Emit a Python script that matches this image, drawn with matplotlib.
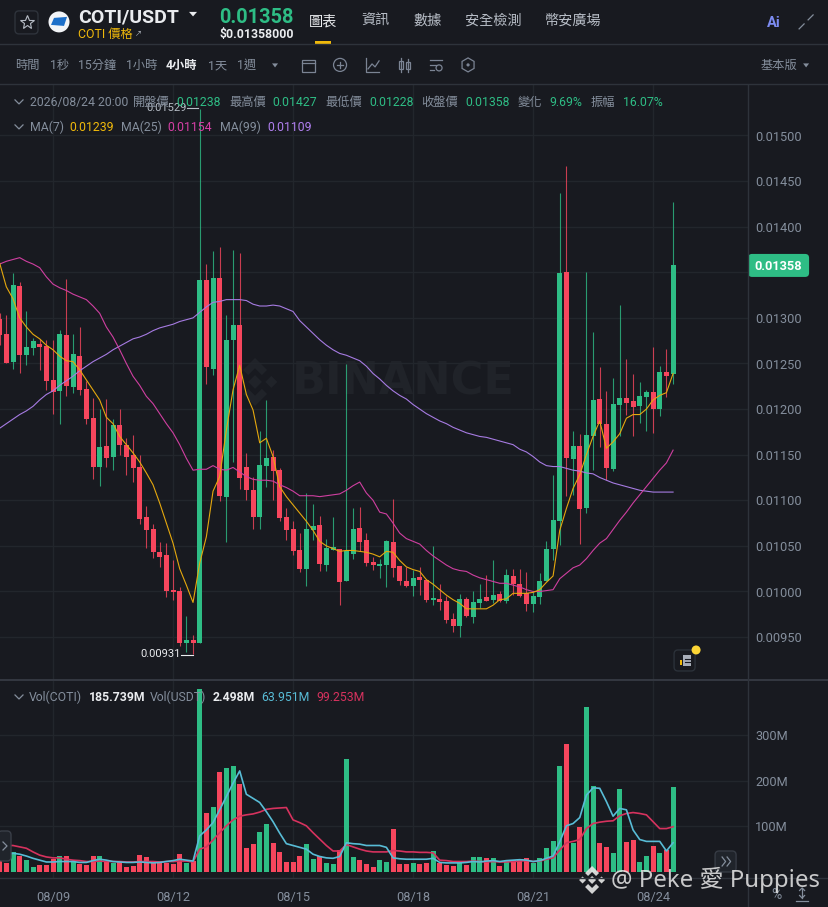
import numpy as np
import matplotlib
matplotlib.use("Agg")
import matplotlib.pyplot as plt
from matplotlib.patches import FancyBboxPatch, Circle, Polygon, Rectangle

plt.rcParams['font.family'] = ['Roboto', 'Noto Sans CJK TC', 'DejaVu Sans']

# prices are in 1e-5 USDT, one entry per 4h candle from 08/07 16:00
opens = [1299, 1282, 1252, 1335, 1259, 1267, 1271, 1269, 1232, 1220, 1281, 1224, 1258, 1222, 1190, 1136, 1159,
         1147, 1182, 1161, 1150, 1136, 1082, 1068, 1043, 1040, 1002, 1000, 943, 947, 944, 1341, 1244, 1344,
         1104, 1276, 1292, 1136, 1111, 1082, 1138, 1147, 1133, 1082, 1068, 1046, 1025, 1067, 1073, 1029, 1045,
         1047, 1011, 1041, 1070, 1056, 1032, 1028, 1029, 1054, 1028, 1011, 1006, 1016, 1013, 991, 992, 990,
         970, 962, 992, 972, 987, 994, 991, 997, 990, 1017, 1008, 998, 986, 994, 1012, 1047, 1077, 1350, 1145,
         1159, 1091, 1170, 1211, 1184, 1134, 1205, 1212, 1209, 1203, 1213, 1219, 1200, 1241, 1238]
closes = [1281, 1251, 1336, 1259, 1268, 1275, 1268, 1231, 1219, 1282, 1225, 1260, 1221, 1189, 1136, 1158, 1146,
          1182, 1161, 1148, 1135, 1079, 1067, 1043, 1038, 1000, 999, 943, 947, 943, 1342, 1246, 1344, 1105,
          1276, 1292, 1124, 1111, 1082, 1139, 1146, 1132, 1081, 1067, 1044, 1025, 1069, 1072, 1030, 1048, 1049,
          1010, 1044, 1069, 1054, 1031, 1029, 1030, 1055, 1026, 1011, 1006, 1015, 1013, 991, 993, 988, 969,
          962, 992, 973, 988, 992, 990, 996, 990, 1018, 1008, 995, 986, 995, 1012, 1047, 1078, 1349, 1146, 1160,
          1090, 1172, 1210, 1184, 1135, 1206, 1212, 1207, 1202, 1214, 1219, 1200, 1241, 1236, 1358]
highs = [1305, 1303, 1349, 1339, 1308, 1278, 1277, 1276, 1276, 1287, 1343, 1282, 1290, 1231, 1212, 1200, 1211,
         1189, 1200, 1168, 1172, 1150, 1094, 1074, 1054, 1053, 1035, 1005, 973, 952, 1529, 1359, 1373, 1378,
         1303, 1374, 1371, 1152, 1125, 1176, 1210, 1155, 1135, 1092, 1077, 1064, 1108, 1096, 1083, 1058, 1082,
         1047, 1249, 1091, 1093, 1064, 1038, 1036, 1056, 1101, 1028, 1027, 1024, 1027, 1014, 1050, 1008, 995,
         976, 997, 994, 1000, 1008, 1018, 1034, 1000, 1025, 1025, 1025, 1021, 1000, 1020, 1055, 1128, 1437,
         1467, 1176, 1173, 1350, 1284, 1246, 1220, 1234, 1314, 1255, 1239, 1230, 1221, 1268, 1247, 1266, 1427]
lows = [1270, 1250, 1244, 1240, 1248, 1259, 1243, 1221, 1195, 1184, 1214, 1218, 1215, 1184, 1123, 1116, 1136,
        1133, 1150, 1128, 1120, 1074, 1048, 1037, 1027, 994, 991, 940, 934, 931, 944, 1228, 1237, 1099, 1054,
        1142, 1112, 1100, 1069, 1069, 1115, 1100, 1077, 1056, 1040, 1021, 1006, 1057, 1023, 1022, 1045, 985,
        1011, 1036, 1044, 1028, 1024, 1015, 1005, 1016, 1007, 1005, 995, 996, 989, 985, 980, 966, 956, 950,
        972, 965, 982, 990, 987, 988, 987, 996, 994, 979, 977, 986, 1012, 1035, 1051, 1105, 1106, 1052, 1086,
        1133, 1158, 1122, 1132, 1170, 1194, 1170, 1185, 1176, 1174, 1192, 1213, 1228]

ma7 = [1360, 1334, 1321, 1300, 1290, 1282, 1277, 1270, 1265, 1258, 1253, 1252, 1243, 1232, 1221, 1210, 1191,
       1184, 1170, 1161, 1152, 1142, 1130, 1117, 1097, 1075, 1053, 1025, 1007, 988, 1031, 1060, 1110, 1126,
       1177, 1221, 1248, 1216, 1199, 1163, 1168, 1148, 1115, 1104, 1095, 1086, 1077, 1067, 1055, 1050, 1047,
       1044, 1045, 1045, 1044, 1043, 1041, 1038, 1044, 1043, 1034, 1027, 1024, 1022, 1013, 1008, 1002, 996,
       991, 987, 981, 981, 981, 981, 985, 991, 992, 998, 998, 998, 999, 1002, 1010, 1017, 1067, 1091, 1113,
       1128, 1150, 1170, 1187, 1157, 1164, 1173, 1190, 1194, 1194, 1200, 1210, 1215, 1218, 1239]
ma25 = [1359, 1362, 1364, 1366, 1362, 1359, 1355, 1345, 1337, 1333, 1330, 1326, 1323, 1320, 1313, 1305, 1290,
        1279, 1265, 1250, 1236, 1226, 1214, 1206, 1195, 1184, 1174, 1161, 1146, 1133, 1134, 1134, 1138, 1134,
        1133, 1136, 1131, 1126, 1123, 1122, 1122, 1121, 1117, 1114, 1110, 1105, 1105, 1105, 1104, 1105, 1106,
        1107, 1111, 1116, 1120, 1108, 1100, 1087, 1085, 1075, 1064, 1058, 1055, 1052, 1045, 1039, 1034, 1029,
        1025, 1023, 1022, 1018, 1015, 1013, 1011, 1009, 1009, 1007, 1005, 1002, 1000, 1000, 1001, 1002, 1014,
        1020, 1026, 1029, 1036, 1045, 1053, 1058, 1068, 1078, 1087, 1097, 1106, 1115, 1124, 1133, 1141, 1155]
ma99 = [1179, 1184, 1189, 1194, 1198, 1203, 1210, 1216, 1220, 1226, 1231, 1236, 1242, 1247, 1252, 1256, 1260,
        1265, 1269, 1273, 1277, 1279, 1282, 1286, 1289, 1291, 1293, 1296, 1298, 1300, 1306, 1312, 1317, 1318,
        1320, 1320, 1320, 1319, 1315, 1313, 1313, 1314, 1313, 1310, 1307, 1297, 1290, 1283, 1276, 1270, 1265,
        1261, 1259, 1256, 1253, 1247, 1239, 1233, 1226, 1220, 1215, 1211, 1205, 1200, 1195, 1191, 1187, 1184,
        1180, 1177, 1174, 1172, 1170, 1169, 1167, 1165, 1163, 1161, 1156, 1153, 1148, 1142, 1138, 1137, 1137,
        1135, 1133, 1132, 1130, 1129, 1125, 1122, 1119, 1117, 1115, 1113, 1111, 1110, 1109, 1109, 1109, 1109]

# volume in millions of COTI
volumes = [26, 19, 44, 34, 26, 11, 15, 15, 28, 36, 36, 23, 17, 15, 35, 34, 23, 20, 21, 10, 14, 37, 32, 19, 19,
           20, 17, 39, 20, 24, 399, 130, 143, 219, 227, 232, 192, 52, 62, 87, 106, 63, 44, 23, 23, 35, 61, 29,
           34, 19, 17, 48, 248, 33, 26, 18, 12, 26, 22, 93, 17, 17, 19, 17, 19, 45, 20, 16, 14, 20, 15, 32, 32,
           31, 31, 13, 26, 26, 26, 30, 20, 31, 52, 67, 232, 279, 64, 98, 360, 187, 64, 54, 42, 181, 65, 70, 23,
           34, 57, 42, 48, 186]
vol_ma_short = [33, 37, 41, 39, 35, 30, 26, 22, 22, 23, 23, 23, 21, 21, 25, 28, 26, 23, 22, 21, 21, 22, 21, 20,
                21, 23, 25, 28, 26, 24, 79, 92, 108, 136, 165, 194, 221, 170, 161, 152, 132, 110, 85, 62, 58, 54,
                50, 39, 34, 31, 30, 34, 64, 62, 61, 58, 58, 58, 54, 31, 29, 28, 28, 28, 28, 30, 21, 20, 20, 20,
                21, 23, 22, 24, 25, 23, 25, 26, 27, 26, 23, 25, 30, 35, 66, 101, 106, 119, 168, 184, 183, 154,
                122, 139, 136, 92, 71, 67, 67, 67, 46, 64]
vol_ma_long = [58, 58, 58, 55, 52, 44, 37, 33, 31, 31, 28, 26, 25, 23, 23, 24, 23, 23, 23, 22, 22, 23, 23, 23,
               22, 23, 23, 24, 24, 22, 50, 55, 70, 86, 101, 114, 122, 125, 127, 131, 137, 139, 140, 141, 114,
               108, 101, 86, 72, 58, 46, 46, 60, 55, 50, 46, 44, 44, 44, 47, 46, 44, 44, 43, 43, 42, 26, 25, 23,
               23, 23, 24, 23, 22, 23, 22, 22, 23, 24, 25, 23, 24, 28, 31, 48, 64, 67, 71, 95, 106, 109, 111, 112,
               123, 128, 130, 128, 125, 110, 95, 95, 99]

price_ticks = [950, 1000, 1050, 1100, 1150, 1200, 1250, 1300, 1350, 1400, 1450, 1500]
price_labels = ["0.00950", "0.01000", "0.01050", "0.01100", "0.01150", "0.01200",
                "0.01250", "0.01300", "", "0.01400", "0.01450", "0.01500"]
vol_ticks = [100, 200, 300]
vol_labels = ["100M", "200M", "300M"]
date_ticks = [8, 26, 44, 62, 80, 98]
date_labels = ["08/09", "08/12", "08/15", "08/18", "08/21", "08/24"]

BG = '#181A20'
GREEN = '#2EBD85'
RED = '#F6465D'
GRID = '#22262C'
LINE = '#2E333B'
GRAY = '#848E9C'
GOLD = '#F0B90B'
MA7_C = '#E5A80E'
MA25_C = '#CF3FA0'
MA99_C = '#A67BE2'
W, H = 828, 907

scale = 1e5
o = np.array(opens) / scale
c = np.array(closes) / scale
hi = np.array(highs) / scale
lo = np.array(lows) / scale
idx = np.arange(len(opens))
up = c >= o
colors = np.where(up, GREEN, RED)

# small epsilon so the pixel size does not round down to 827
fig = plt.figure(figsize=((W + 0.1) / 100, (H + 0.1) / 100), dpi=100, facecolor=BG)


def box(x0, y0, x1, y1):
    return [x0 / W, 1 - y1 / H, (x1 - x0) / W, (y1 - y0) / H]


def pixel_axes(z):
    a = fig.add_axes([0, 0, 1, 1], facecolor='none', zorder=z)
    a.set_xlim(0, W)
    a.set_ylim(H, 0)
    a.axis('off')
    return a


def logo(a, cx, cy, u, color, alpha=1.0):
    # exchange logo: centre rhombus, two side rhombi, two chevrons; u is half its height
    s = u / 14
    shapes = [[(0, -4), (4, 0), (0, 4), (-4, 0)],
              [(-9.5, -3.5), (-6, 0), (-9.5, 3.5), (-13, 0)],
              [(9.5, -3.5), (13, 0), (9.5, 3.5), (6, 0)],
              [(0, -14), (7, -7), (4, -4), (0, -8), (-4, -4), (-7, -7)],
              [(0, 14), (7, 7), (4, 4), (0, 8), (-4, 4), (-7, 7)]]
    for pts in shapes:
        a.add_patch(Polygon([(cx + x * s, cy + y * s) for x, y in pts], fc=color, ec='none', alpha=alpha))


# watermark goes under the candles
back = pixel_axes(-1)
logo(back, 255, 382, 24, '#202329')
back.text(292, 382, "BINANCE", color='#202329', fontsize=32, fontweight='bold', ha='left', va='center',
          family='DejaVu Sans')

# Price panel
ax = fig.add_axes(box(0, 85, 748, 680), facecolor='none')
ax.set_xlim(0.05, 112.25)
ax.set_ylim(903 / scale, 1555.4 / scale)
ax.vlines(idx, lo, hi, colors=colors, lw=0.8, alpha=0.8, zorder=3)
ax.bar(idx, c - o, bottom=o, width=0.75, color=colors, zorder=4)
ax.plot(idx, np.array(ma99) / scale, color=MA99_C, lw=0.8, zorder=5)
ax.plot(idx, np.array(ma25) / scale, color=MA25_C, lw=0.8, zorder=5)
ax.plot(idx, np.array(ma7) / scale, color=MA7_C, lw=0.8, zorder=6)
ax.set_yticks(np.array(price_ticks) / scale)
ax.set_yticklabels(price_labels)
ax.set_xticks(date_ticks)
ax.grid(True, color=GRID, lw=1.0, zorder=0)
ax.yaxis.tick_right()
ax.tick_params(axis='y', length=0, pad=5, labelcolor=GRAY, labelsize=9.2)
ax.tick_params(axis='x', length=0, labelbottom=False)
for s in ax.spines.values():
    s.set_visible(False)

# Volume panel
vax = fig.add_axes(box(0, 681, 748, 878), facecolor=BG)
vax.set_xlim(0.05, 112.25)
vax.set_ylim(-13, 417.5)
vax.bar(idx, volumes, width=0.75, color=colors, zorder=3)
vax.plot(idx, vol_ma_long, color='#D6325E', lw=1.2, zorder=4)
vax.plot(idx, vol_ma_short, color='#58BCD6', lw=1.2, zorder=5)
vax.set_yticks(vol_ticks)
vax.set_yticklabels(vol_labels)
vax.set_xticks(date_ticks)
vax.set_xticklabels(date_labels)
vax.grid(True, color=GRID, lw=1.0, zorder=0)
vax.yaxis.tick_right()
vax.tick_params(axis='y', length=0, pad=5, labelcolor=GRAY, labelsize=9.2)
vax.tick_params(axis='x', length=0, pad=9, labelcolor=GRAY, labelsize=9.2)
for s in vax.spines.values():
    s.set_visible(False)

# Everything else (app chrome) is placed in pixel coordinates on an overlay
ov = pixel_axes(5)


def text(x, y, s, color=GRAY, size=9.2, weight='normal', ha='left', **kw):
    ov.text(x, y, s, color=color, fontsize=size, fontweight=weight, ha=ha, va='center', **kw)


def rbox(x0, y0, x1, y1, r=3, fc='none', ec=LINE, lw=1.0):
    ov.add_patch(FancyBboxPatch((x0 + r, y0 + r), x1 - x0 - 2 * r, y1 - y0 - 2 * r,
                                boxstyle=f"round,pad={r}", fc=fc, ec=ec, lw=lw))


# separators
ov.plot([0, W], [44, 44], color=LINE, lw=1)
ov.plot([0, W], [84.5, 84.5], color=LINE, lw=1)
ov.plot([0, W], [680.5, 680.5], color='#363B44', lw=1.3)
ov.plot([0, W], [878, 878], color=LINE, lw=1)
ov.plot([747.5, 747.5], [85, H], color=LINE, lw=1)

# header
rbox(15, 11, 38, 34, r=4)
ov.plot(26.5, 22.5, marker='*', ms=10, mfc='none', mec='#B7BDC6', mew=0.8)
ov.add_patch(Circle((59, 22), 10.5, fc='#F2F4F7', ec='none'))
ov.add_patch(Polygon([(51, 25), (54, 18), (67, 17), (64, 26)], fc='#1C6FC9', ec='none'))
text(78, 17, "COTI/USDT", '#EAECEF', 14, 'bold')
ov.add_patch(Polygon([(189, 12), (197, 12), (193, 16.5)], fc='#EAECEF', ec='none'))
text(78, 34, "COTI 價格", GOLD, 8.8)
text(135, 35, "↗", '#B7BDC6', 5)
text(219, 17, "0.01358", GREEN, 14.4, 'bold')
text(219, 34.5, "$0.01358000", '#EAECEF', 8.8, 'bold')
for x, s, col in [(309, "圖表", '#EAECEF'), (361, "資訊", '#B7BDC6'), (413, "數據", '#B7BDC6'),
                  (465, "安全檢測", '#B7BDC6'), (545, "幣安廣場", '#B7BDC6')]:
    text(x, 21, s, col, 10.2)
ov.add_patch(Rectangle((315, 41), 16, 3, fc=GOLD, ec='none'))
text(767, 23, "Ai", '#7D8CF2', 10.5, 'bold')
ov.plot([799, 804], [29, 24], color='#848E9C', lw=0.9)
ov.plot([808, 813], [20, 15], color='#848E9C', lw=0.9)

# toolbar
for x, s, col, wt in [(15, "時間", GRAY, 'normal'), (50, "1秒", GRAY, 'normal'), (78, "15分鐘", GRAY, 'normal'),
                      (126, "1小時", GRAY, 'normal'), (166, "4小時", '#EAECEF', 'bold'), (208, "1天", GRAY, 'normal'),
                      (237, "1週", GRAY, 'normal'), (761, "基本版", GRAY, 'normal')]:
    text(x, 65.5, s, col, 8.8, wt)
for x in (275, 806):
    ov.add_patch(Polygon([(x - 3, 63.5), (x + 3, 63.5), (x, 67.5)], fc=GRAY, ec='none'))
ic = '#7B8494'
ov.add_patch(Rectangle((302, 60), 13, 12, fc='none', ec=ic, lw=0.9))
ov.plot([302, 315], [63.5, 63.5], color=ic, lw=0.9)
ov.add_patch(Circle((340, 65), 6.5, fc='none', ec=ic, lw=0.9))
ov.plot([337, 343], [65, 65], color=ic, lw=0.9)
ov.plot([340, 340], [62, 68], color=ic, lw=0.9)
ov.plot([366, 366, 379], [58, 72, 72], color=ic, lw=0.9)
ov.plot([368, 372, 375, 379], [69, 64, 67, 61], color=ic, lw=0.9)
ov.add_patch(Rectangle((398.5, 61), 4, 8, fc='none', ec=ic, lw=0.9))
ov.add_patch(Rectangle((405.5, 62), 4, 7, fc='none', ec=ic, lw=0.9))
ov.plot([400.5, 400.5], [58, 72], color=ic, lw=0.9)
ov.plot([407.5, 407.5], [59, 72], color=ic, lw=0.9)
ov.plot([430, 442], [60, 60], color=ic, lw=0.9)
ov.plot([430, 436], [65, 65], color=ic, lw=0.9)
ov.plot([430, 434], [70, 70], color=ic, lw=0.9)
ov.add_patch(Circle((439, 68), 3, fc='none', ec=ic, lw=0.9))
ov.add_patch(Polygon([(468, 58), (474, 61.5), (474, 68.5), (468, 72), (462, 68.5), (462, 61.5)], fc='none', ec=ic, lw=0.9))
ov.add_patch(Circle((468, 65), 1.6, fc=ic, ec='none'))

# legend rows
ov.plot([15, 19, 23], [100, 104, 100], color=GRAY, lw=0.9)
text(30, 102, "2026/08/24 20:00", GRAY, 8.8)
for x, s, col in [(133, "開盤價", GRAY), (176, "0.01238", GREEN), (229, "最高價", GRAY), (272, "0.01427", GREEN),
                  (325, "最低價", GRAY), (369, "0.01228", GREEN), (421, "收盤價", GRAY), (465, "0.01358", GREEN),
                  (517, "變化", GRAY), (549, "9.69%", GREEN), (591, "振幅", GRAY), (623, "16.07%", GREEN)]:
    text(x, 102, s, col, 8.8)
ov.plot([15, 19, 23], [125, 129, 125], color=GRAY, lw=0.9)
for x, s, col in [(30, "MA(7)", GRAY), (69, "0.01239", GOLD), (121, "MA(25)", GRAY), (167, "0.01154", '#D63FA5'),
                  (220, "MA(99)", GRAY), (267, "0.01109", '#B07FEF')]:
    text(x, 127, s, col, 8.8)
ov.plot([15, 19, 23], [695, 699, 695], color=GRAY, lw=0.9)
for x, s, col, wt in [(29, "Vol(COTI)", GRAY, 'normal'), (89, "185.739M", '#EAECEF', 'bold'),
                      (150, "Vol(USDT)", GRAY, 'normal'), (213, "2.498M", '#EAECEF', 'bold'),
                      (261, "63.951M", '#58BCD6', 'normal'), (316, "99.253M", '#D6325E', 'normal')]:
    text(x, 697, s, col, 8.8, wt)

# high / low markers
text(146, 108, "0.01529", '#B7BDC6', 8, zorder=2)
ov.plot([187, 198], [108.5, 108.5], color='#B7BDC6', lw=0.8)
text(140, 654, "0.00931", '#EAECEF', 8)
ov.plot([181, 193], [655, 655], color='#EAECEF', lw=0.8)

# last price tag
rbox(748, 254, 809, 277, r=4, fc=GREEN, ec='none')
text(778.5, 266, "0.01358", 'white', 9.2, 'bold', ha='center')

# small widgets
rbox(674, 650, 695, 671, r=4, ec='#2B3139')
ov.add_patch(Rectangle((683, 655), 8, 11, fc='#A7ADB8', ec='none'))
ov.plot([684.5, 689.5], [659, 659], color=BG, lw=0.8)
ov.plot([684.5, 689.5], [662, 662], color=BG, lw=0.8)
ov.add_patch(Rectangle((679.5, 660), 2, 5, fc=GOLD, ec='none'))
ov.add_patch(Circle((696, 650), 4.5, fc='#FCD535', ec='none'))
rbox(-2, 831, 11, 861, r=4, fc='#20242B', ec='#3A3F48')
ov.plot([3, 7, 3], [842, 846, 850], color=GRAY, lw=0.9)
rbox(715, 851, 736, 872, r=4, fc='#20242B', ec='#363B44')
ov.plot([722, 725.5, 722], [857, 861.5, 866], color=GRAY, lw=0.9)
ov.plot([727, 730.5, 727], [857, 861.5, 866], color=GRAY, lw=0.9)
text(776, 895, "%", GRAY, 10, ha='center')
ov.plot([796, 808], [901, 901], color=GRAY, lw=0.9)
ov.plot([802, 802], [888, 898], color=GRAY, lw=0.9)
ov.plot([799.5, 802, 804.5], [890.5, 888, 890.5], color=GRAY, lw=0.9)
ov.plot([799.5, 802, 804.5], [895.5, 898, 895.5], color=GRAY, lw=0.9)

# author watermark
logo(ov, 592, 880, 14, '#E8E8E8', 0.9)
text(611, 880, "@ Peke 愛 Puppies", '#E8E8E8', 17.3, alpha=0.85, family=['Noto Sans', 'Noto Sans CJK TC'])

fig.savefig("out.png", dpi=100, facecolor=BG)
